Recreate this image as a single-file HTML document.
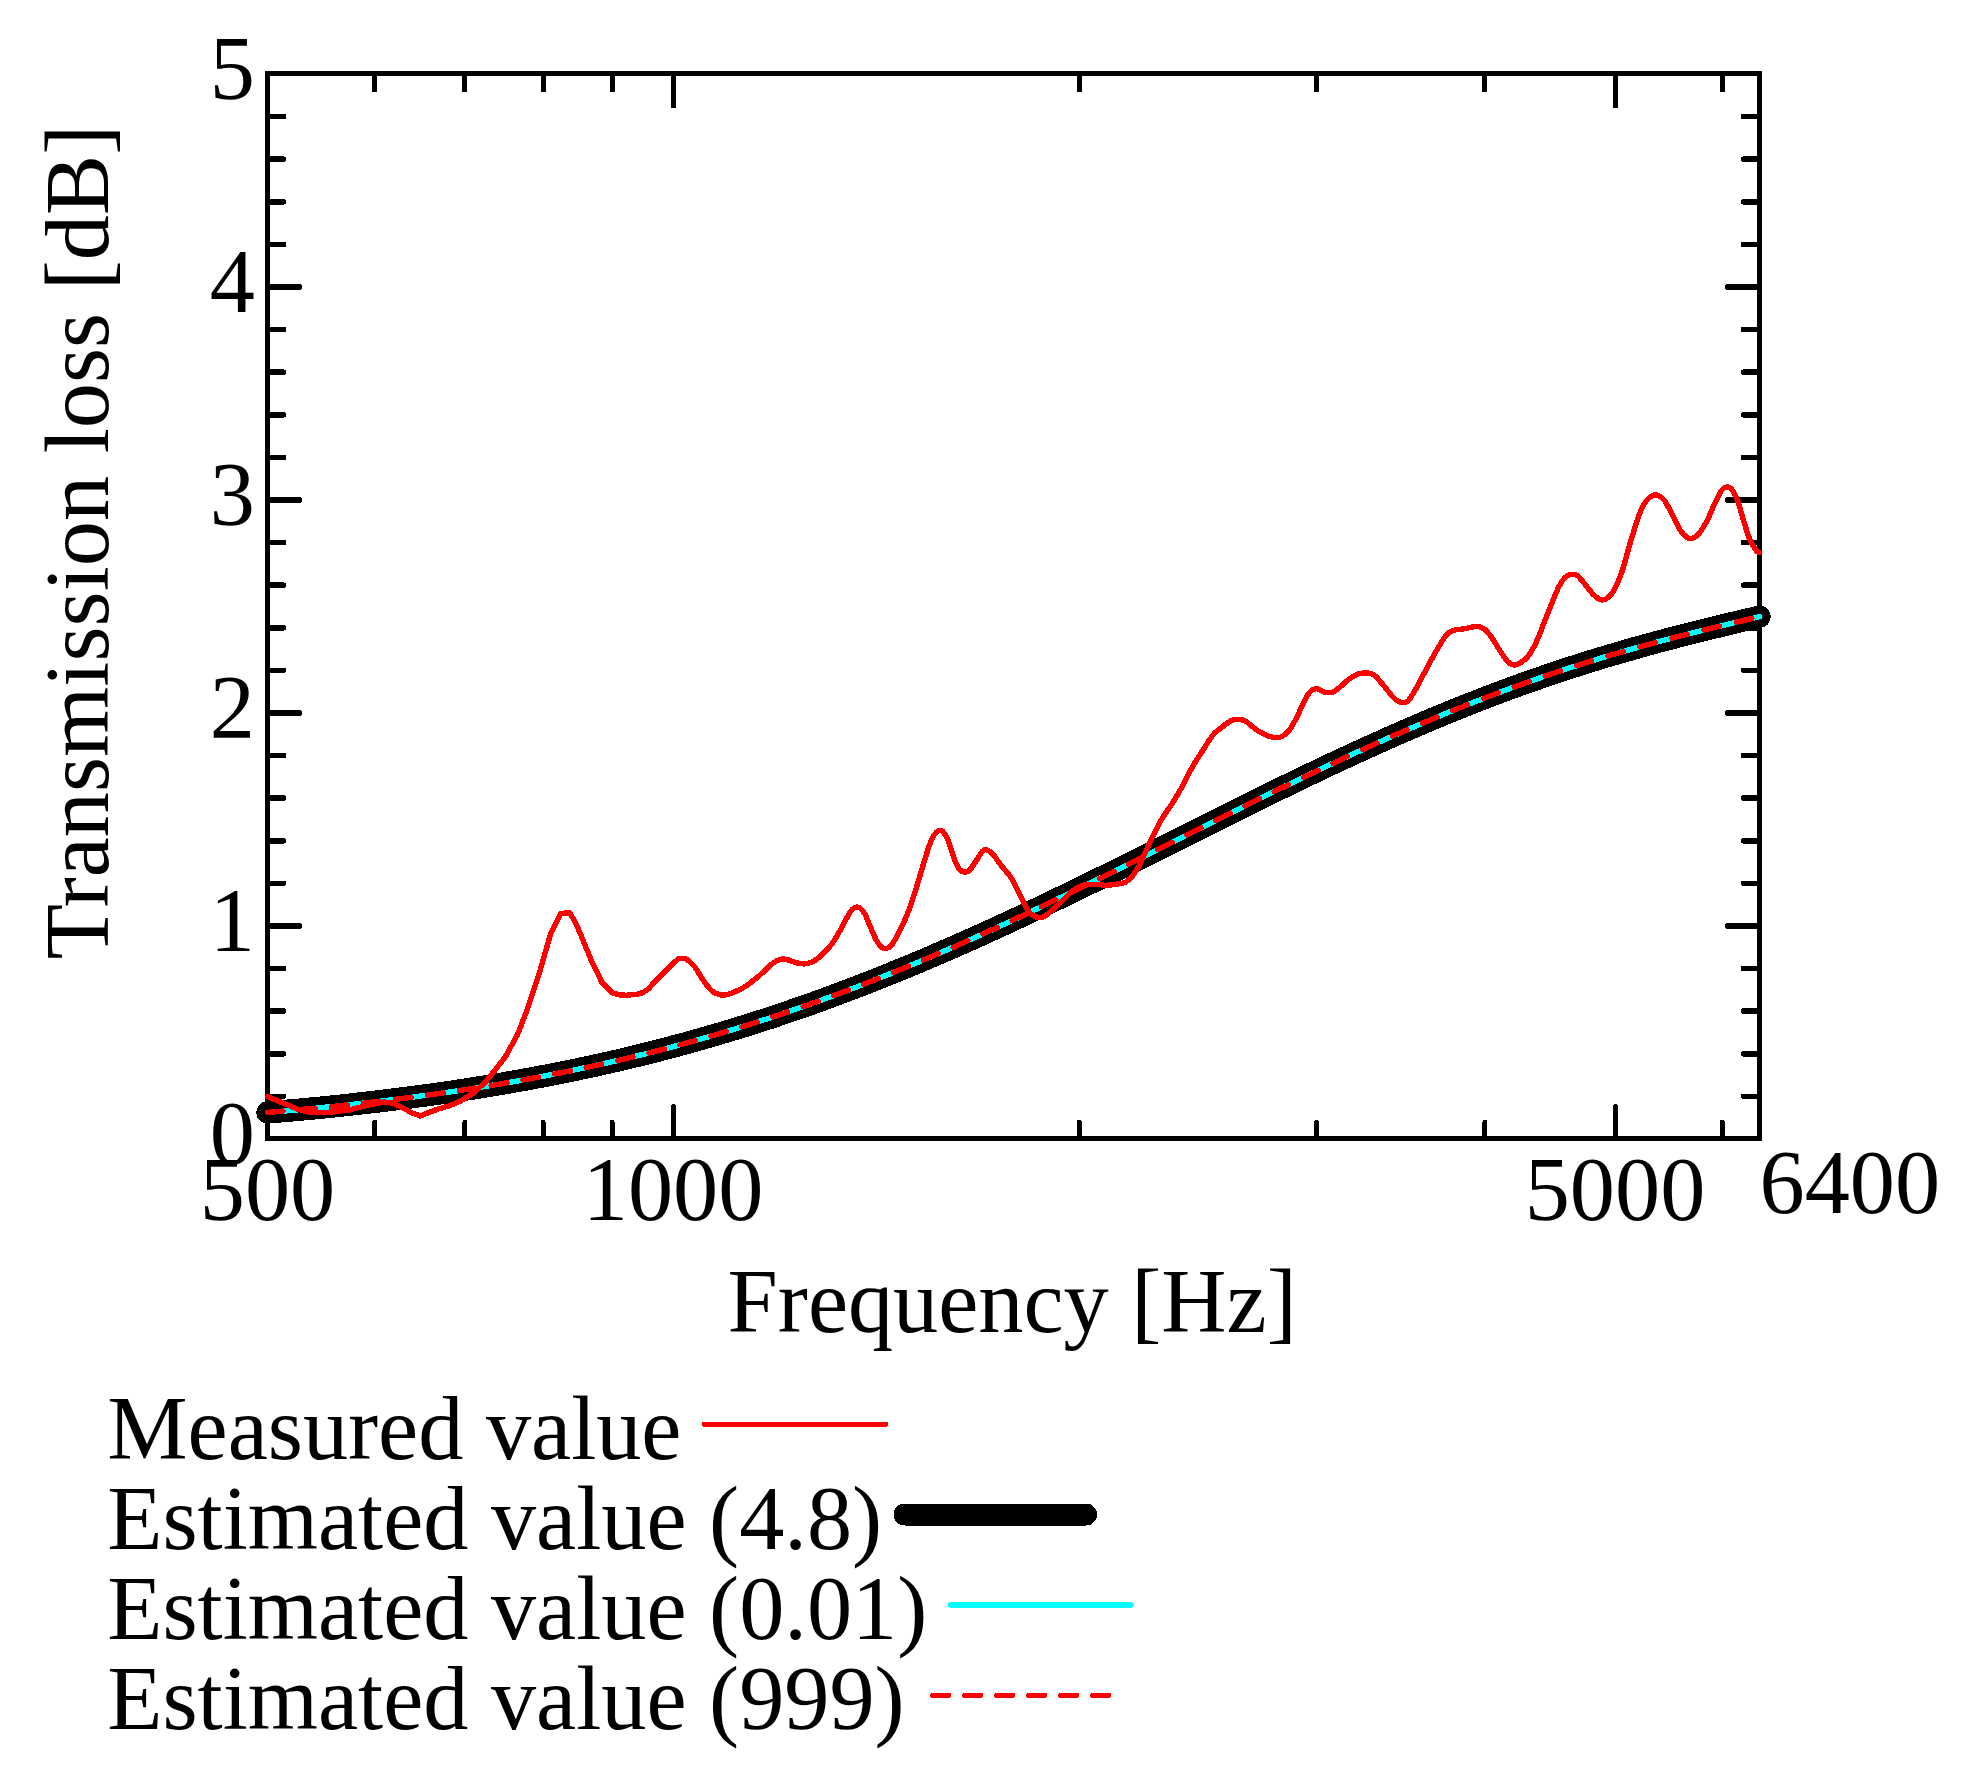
<!DOCTYPE html>
<html lang="en"><head><meta charset="utf-8"><title>Transmission loss</title>
<style>html,body{margin:0;padding:0;background:#fff}svg{display:block}text{font-family:"Liberation Serif",serif;font-size:90.3px;fill:#000}</style></head><body>
<svg width="1966" height="1772" viewBox="0 0 1966 1772" shape-rendering="crispEdges">
<rect width="1966" height="1772" fill="#fff"/>
<path d="M267.5 1096.3h16M1759.5 1096.3h-16M267.5 1053.7h16M1759.5 1053.7h-16M267.5 1011.1h16M1759.5 1011.1h-16M267.5 968.5h16M1759.5 968.5h-16M267.5 925.9h32M1759.5 925.9h-32M267.5 883.3h16M1759.5 883.3h-16M267.5 840.7h16M1759.5 840.7h-16M267.5 798.1h16M1759.5 798.1h-16M267.5 755.5h16M1759.5 755.5h-16M267.5 712.9h32M1759.5 712.9h-32M267.5 670.3h16M1759.5 670.3h-16M267.5 627.7h16M1759.5 627.7h-16M267.5 585.2h16M1759.5 585.2h-16M267.5 542.6h16M1759.5 542.6h-16M267.5 500.0h32M1759.5 500.0h-32M267.5 457.4h16M1759.5 457.4h-16M267.5 414.8h16M1759.5 414.8h-16M267.5 372.2h16M1759.5 372.2h-16M267.5 329.6h16M1759.5 329.6h-16M267.5 287.0h32M1759.5 287.0h-32M267.5 244.4h16M1759.5 244.4h-16M267.5 201.8h16M1759.5 201.8h-16M267.5 159.2h16M1759.5 159.2h-16M267.5 116.6h16M1759.5 116.6h-16" stroke="#000" stroke-width="5.6" stroke-linecap="round" fill="none"/>
<path d="M374.7 1138.4v-16M464.9 1138.4v-16M543.1 1138.4v-16M612.0 1138.4v-16M673.6 1138.4v-32M1079.3 1138.4v-16M1316.6 1138.4v-16M1484.9 1138.4v-16M1615.5 1138.4v-32M1722.2 1138.4v-16" stroke="#000" stroke-width="5" stroke-linecap="round" fill="none"/>
<path d="M374.7 73.5V92.0M464.9 73.5V92.0M543.1 73.5V92.0M612.0 73.5V92.0M673.6 73.5V108.0M1079.3 73.5V92.0M1316.6 73.5V92.0M1484.9 73.5V92.0M1615.5 73.5V108.0M1722.2 73.5V92.0" stroke="#000" stroke-width="5" fill="none"/>
<rect x="267.5" y="73.5" width="1492.0" height="1064.9" stroke="#000" stroke-width="5" fill="none"/>
<path d="M267.5 1112.4L275.5 1111.7L283.5 1111.1L291.5 1110.4L299.5 1109.7L307.5 1108.9L315.5 1108.2L323.5 1107.4L331.5 1106.6L339.5 1105.8L347.5 1104.9L355.5 1104.0L363.5 1103.1L371.5 1102.2L379.5 1101.3L387.5 1100.3L395.5 1099.3L403.5 1098.3L411.5 1097.3L419.5 1096.2L427.5 1095.1L435.5 1094.0L443.5 1092.9L451.5 1091.7L459.5 1090.5L467.5 1089.3L475.5 1088.0L483.5 1086.7L491.5 1085.4L499.5 1084.1L507.5 1082.7L515.5 1081.3L523.5 1079.9L531.5 1078.4L539.5 1076.9L547.5 1075.4L555.5 1073.8L563.5 1072.2L571.5 1070.6L579.5 1068.9L587.5 1067.2L595.5 1065.5L603.5 1063.7L611.5 1061.9L619.5 1060.1L627.5 1058.2L635.5 1056.2L643.5 1054.3L651.5 1052.3L659.5 1050.2L667.5 1048.1L675.5 1046.0L683.5 1043.9L691.5 1041.7L699.5 1039.4L707.5 1037.1L715.5 1034.8L723.5 1032.4L731.5 1030.0L739.5 1027.6L747.5 1025.1L755.5 1022.5L763.5 1020.0L771.5 1017.4L779.5 1014.7L787.5 1012.0L795.5 1009.3L803.5 1006.5L811.5 1003.7L819.5 1000.8L827.5 997.9L835.5 994.9L843.5 991.9L851.5 988.9L859.5 985.9L867.5 982.8L875.5 979.6L883.5 976.4L891.5 973.2L899.5 969.9L907.5 966.7L915.5 963.3L923.5 960.0L931.5 956.6L939.5 953.1L947.5 949.7L955.5 946.2L963.5 942.6L971.5 939.1L979.5 935.5L987.5 931.8L995.5 928.2L1003.5 924.5L1011.5 920.8L1019.5 917.1L1027.5 913.3L1035.5 909.5L1043.5 905.7L1051.5 901.9L1059.5 898.0L1067.5 894.2L1075.5 890.3L1083.5 886.4L1091.5 882.5L1099.5 878.5L1107.5 874.6L1115.5 870.6L1123.5 866.7L1131.5 862.7L1139.5 858.7L1147.5 854.7L1155.5 850.7L1163.5 846.7L1171.5 842.7L1179.5 838.7L1187.5 834.7L1195.5 830.7L1203.5 826.6L1211.5 822.6L1219.5 818.6L1227.5 814.7L1235.5 810.7L1243.5 806.7L1251.5 802.7L1259.5 798.8L1267.5 794.9L1275.5 790.9L1283.5 787.0L1291.5 783.1L1299.5 779.3L1307.5 775.4L1315.5 771.6L1323.5 767.8L1331.5 764.0L1339.5 760.3L1347.5 756.6L1355.5 752.9L1363.5 749.2L1371.5 745.6L1379.5 742.0L1387.5 738.4L1395.5 734.9L1403.5 731.4L1411.5 727.9L1419.5 724.5L1427.5 721.1L1435.5 717.7L1443.5 714.4L1451.5 711.1L1459.5 707.9L1467.5 704.7L1475.5 701.6L1483.5 698.5L1491.5 695.4L1499.5 692.4L1507.5 689.4L1515.5 686.5L1523.5 683.6L1531.5 680.8L1539.5 678.0L1547.5 675.3L1555.5 672.6L1563.5 669.9L1571.5 667.3L1579.5 664.8L1587.5 662.2L1595.5 659.8L1603.5 657.3L1611.5 654.9L1619.5 652.6L1627.5 650.3L1635.5 648.0L1643.5 645.8L1651.5 643.6L1659.5 641.4L1667.5 639.3L1675.5 637.2L1683.5 635.2L1691.5 633.1L1699.5 631.1L1707.5 629.2L1715.5 627.2L1723.5 625.3L1731.5 623.3L1739.5 621.4L1747.5 619.5L1755.5 617.6L1759.5 616.7" stroke="#000" stroke-width="22.4" fill="none" stroke-linecap="round" stroke-linejoin="round"/>
<path d="M267.5 1112.4L275.5 1111.7L283.5 1111.1L291.5 1110.4L299.5 1109.7L307.5 1108.9L315.5 1108.2L323.5 1107.4L331.5 1106.6L339.5 1105.8L347.5 1104.9L355.5 1104.0L363.5 1103.1L371.5 1102.2L379.5 1101.3L387.5 1100.3L395.5 1099.3L403.5 1098.3L411.5 1097.3L419.5 1096.2L427.5 1095.1L435.5 1094.0L443.5 1092.9L451.5 1091.7L459.5 1090.5L467.5 1089.3L475.5 1088.0L483.5 1086.7L491.5 1085.4L499.5 1084.1L507.5 1082.7L515.5 1081.3L523.5 1079.9L531.5 1078.4L539.5 1076.9L547.5 1075.4L555.5 1073.8L563.5 1072.2L571.5 1070.6L579.5 1068.9L587.5 1067.2L595.5 1065.5L603.5 1063.7L611.5 1061.9L619.5 1060.1L627.5 1058.2L635.5 1056.2L643.5 1054.3L651.5 1052.3L659.5 1050.2L667.5 1048.1L675.5 1046.0L683.5 1043.9L691.5 1041.7L699.5 1039.4L707.5 1037.1L715.5 1034.8L723.5 1032.4L731.5 1030.0L739.5 1027.6L747.5 1025.1L755.5 1022.5L763.5 1020.0L771.5 1017.4L779.5 1014.7L787.5 1012.0L795.5 1009.3L803.5 1006.5L811.5 1003.7L819.5 1000.8L827.5 997.9L835.5 994.9L843.5 991.9L851.5 988.9L859.5 985.9L867.5 982.8L875.5 979.6L883.5 976.4L891.5 973.2L899.5 969.9L907.5 966.7L915.5 963.3L923.5 960.0L931.5 956.6L939.5 953.1L947.5 949.7L955.5 946.2L963.5 942.6L971.5 939.1L979.5 935.5L987.5 931.8L995.5 928.2L1003.5 924.5L1011.5 920.8L1019.5 917.1L1027.5 913.3L1035.5 909.5L1043.5 905.7L1051.5 901.9L1059.5 898.0L1067.5 894.2L1075.5 890.3L1083.5 886.4L1091.5 882.5L1099.5 878.5L1107.5 874.6L1115.5 870.6L1123.5 866.7L1131.5 862.7L1139.5 858.7L1147.5 854.7L1155.5 850.7L1163.5 846.7L1171.5 842.7L1179.5 838.7L1187.5 834.7L1195.5 830.7L1203.5 826.6L1211.5 822.6L1219.5 818.6L1227.5 814.7L1235.5 810.7L1243.5 806.7L1251.5 802.7L1259.5 798.8L1267.5 794.9L1275.5 790.9L1283.5 787.0L1291.5 783.1L1299.5 779.3L1307.5 775.4L1315.5 771.6L1323.5 767.8L1331.5 764.0L1339.5 760.3L1347.5 756.6L1355.5 752.9L1363.5 749.2L1371.5 745.6L1379.5 742.0L1387.5 738.4L1395.5 734.9L1403.5 731.4L1411.5 727.9L1419.5 724.5L1427.5 721.1L1435.5 717.7L1443.5 714.4L1451.5 711.1L1459.5 707.9L1467.5 704.7L1475.5 701.6L1483.5 698.5L1491.5 695.4L1499.5 692.4L1507.5 689.4L1515.5 686.5L1523.5 683.6L1531.5 680.8L1539.5 678.0L1547.5 675.3L1555.5 672.6L1563.5 669.9L1571.5 667.3L1579.5 664.8L1587.5 662.2L1595.5 659.8L1603.5 657.3L1611.5 654.9L1619.5 652.6L1627.5 650.3L1635.5 648.0L1643.5 645.8L1651.5 643.6L1659.5 641.4L1667.5 639.3L1675.5 637.2L1683.5 635.2L1691.5 633.1L1699.5 631.1L1707.5 629.2L1715.5 627.2L1723.5 625.3L1731.5 623.3L1739.5 621.4L1747.5 619.5L1755.5 617.6L1759.5 616.7" stroke="#00ffff" stroke-width="5.4" fill="none" stroke-linecap="round"/>
<path d="M267.5 1112.4L271.4 1112.1L275.4 1111.8L279.3 1111.4L283.2 1111.1M299.4 1109.7L303.4 1109.3L307.4 1108.9L311.4 1108.6L315.3 1108.2M331.5 1106.6L335.5 1106.2L339.5 1105.8L343.4 1105.3L347.4 1104.9M363.6 1103.1L367.5 1102.7L371.5 1102.2L375.5 1101.8L379.5 1101.3M395.6 1099.3L399.5 1098.8L403.5 1098.3L407.5 1097.8L411.4 1097.3M427.5 1095.1L431.5 1094.6L435.5 1094.0L439.4 1093.4L443.4 1092.9M459.4 1090.5L463.4 1089.9L467.3 1089.3L471.3 1088.7L475.2 1088.1M491.2 1085.5L495.2 1084.8L499.1 1084.2L503.1 1083.5L507.0 1082.8M523.0 1080.0L526.9 1079.3L530.8 1078.5L534.8 1077.8L538.7 1077.1M554.6 1074.0L558.5 1073.2L562.5 1072.4L566.4 1071.6L570.3 1070.8M586.2 1067.5L590.1 1066.7L594.0 1065.8L597.9 1065.0L601.8 1064.1M617.6 1060.5L621.5 1059.6L625.4 1058.7L629.3 1057.7L633.2 1056.8M648.9 1052.9L652.8 1051.9L656.7 1051.0L660.5 1050.0L664.4 1049.0M680.1 1044.8L683.9 1043.7L687.8 1042.7L691.6 1041.6L695.5 1040.5M711.1 1036.1L714.9 1035.0L718.8 1033.8L722.6 1032.7L726.4 1031.6M742.0 1026.8L745.8 1025.6L749.6 1024.4L753.4 1023.2L757.2 1022.0M772.7 1017.0L776.4 1015.7L780.2 1014.5L784.0 1013.2L787.8 1011.9M803.2 1006.6L806.9 1005.3L810.7 1003.9L814.5 1002.6L818.2 1001.2M833.5 995.7L837.3 994.3L841.0 992.9L844.8 991.5L848.5 990.1M863.7 984.2L867.4 982.8L871.1 981.3L874.9 979.9L878.6 978.4M893.7 972.3L897.4 970.8L901.1 969.3L904.8 967.8L908.5 966.2M923.5 960.0L927.2 958.4L930.9 956.8L934.5 955.3L938.2 953.7M953.2 947.2L956.8 945.6L960.5 943.9L964.2 942.3L967.8 940.7M982.7 934.0L986.3 932.4L990.0 930.7L993.6 929.0L997.3 927.4M1012.1 920.5L1015.7 918.8L1019.3 917.1L1023.0 915.4L1026.6 913.7M1041.4 906.7L1045.0 905.0L1048.6 903.3L1052.2 901.6L1055.8 899.8M1070.5 892.7L1074.1 890.9L1077.7 889.2L1081.3 887.4L1084.9 885.7M1099.7 878.5L1103.2 876.7L1106.8 874.9L1110.4 873.1L1114.0 871.4M1128.7 864.1L1132.3 862.3L1135.9 860.5L1139.5 858.7L1143.0 856.9M1157.8 849.6L1161.3 847.8L1164.9 846.0L1168.5 844.2L1172.1 842.4M1186.8 835.0L1190.4 833.2L1194.0 831.4L1197.5 829.6L1201.1 827.8M1215.9 820.5L1219.4 818.7L1223.0 816.9L1226.6 815.1L1230.2 813.3M1245.0 806.0L1248.6 804.2L1252.2 802.4L1255.8 800.6L1259.3 798.9M1274.2 791.6L1277.8 789.8L1281.4 788.0L1285.0 786.3L1288.6 784.5M1303.6 777.3L1307.2 775.6L1310.8 773.9L1314.4 772.1L1318.0 770.4M1333.0 763.3L1336.7 761.6L1340.3 759.9L1343.9 758.2L1347.5 756.5M1362.7 749.6L1366.3 747.9L1370.0 746.3L1373.6 744.6L1377.2 743.0M1392.5 736.2L1396.2 734.6L1399.8 732.9L1403.5 731.3L1407.2 729.8M1422.6 723.2L1426.3 721.6L1429.9 720.0L1433.6 718.5L1437.3 717.0M1452.9 710.6L1456.6 709.1L1460.3 707.6L1464.0 706.1L1467.7 704.6M1483.4 698.5L1487.1 697.1L1490.9 695.7L1494.6 694.3L1498.3 692.8M1514.2 687.0L1517.9 685.6L1521.7 684.3L1525.5 682.9L1529.2 681.6M1545.2 676.1L1549.0 674.8L1552.8 673.5L1556.6 672.2L1560.4 671.0M1576.5 665.7L1580.3 664.5L1584.1 663.3L1588.0 662.1L1591.8 660.9M1608.0 656.0L1611.9 654.8L1615.7 653.7L1619.6 652.6L1623.4 651.5M1639.8 646.8L1643.7 645.7L1647.5 644.7L1651.4 643.6L1655.2 642.6M1671.8 638.2L1675.6 637.2L1679.5 636.2L1683.4 635.2L1687.3 634.2M1703.9 630.0L1707.8 629.1L1711.7 628.1L1715.6 627.2L1719.5 626.2M1736.2 622.2L1740.1 621.3L1744.0 620.4L1747.9 619.4L1751.8 618.5" stroke="#ff0000" stroke-width="5.4" fill="none" stroke-linecap="round" stroke-linejoin="round"/>
<path d="M267.5 1096.5L297.0 1109.0L311.0 1112.8L326.3 1112.6L350.5 1109.7L370.8 1104.6L384.8 1102.0L393.7 1103.3L402.6 1107.7L411.5 1112.8L420.4 1116.0L428.0 1112.8L438.2 1109.0L449.6 1105.8L459.8 1101.4L472.5 1093.8L485.3 1082.3L495.4 1069.6L505.2 1057.0L517.5 1034.6L527.1 1010.0L539.8 971.4L551.0 932.7L560.7 913.4L569.9 912.9L576.5 924.6L591.7 961.2L598.9 975.5L601.9 982.6L612.1 992.7L619.2 994.8L626.3 995.3L636.5 994.3L642.6 992.7L648.7 988.7L655.8 980.5L673.1 963.2L679.2 958.2L685.3 958.2L685.3 958.2C686.7 959.5 690.9 962.1 693.9 965.8C696.9 969.4 700.2 976.0 703.1 980.1C706.0 984.2 708.7 987.8 711.2 990.2C713.7 992.6 715.9 993.5 718.3 994.3C720.7 995.1 723.0 995.2 725.5 994.9C728.0 994.6 730.2 993.8 733.6 992.3C737.0 990.8 741.4 989.1 745.8 986.2C750.2 983.3 755.6 978.7 760.0 975.0C764.4 971.3 768.8 966.4 772.2 963.8C775.6 961.2 777.9 960.0 780.4 959.3C782.9 958.6 784.8 959.1 787.5 959.7C790.2 960.3 793.8 962.1 796.7 962.8C799.6 963.5 802.1 964.0 804.8 963.8C807.5 963.6 809.8 963.4 812.9 961.7C816.0 960.0 819.9 956.7 823.1 953.6C826.3 950.5 829.2 947.6 832.3 943.4C835.3 939.2 838.5 933.3 841.4 928.2C844.3 923.1 847.4 916.3 849.6 912.9C851.8 909.5 852.9 908.6 854.6 907.8C856.3 906.9 858.0 906.8 859.7 907.8C861.4 908.8 862.9 910.5 864.8 913.9C866.7 917.3 868.9 923.6 870.9 928.2C872.9 932.8 875.1 938.2 877.0 941.4C878.9 944.6 880.6 946.3 882.1 947.5C883.6 948.7 884.7 948.8 886.2 948.5C887.7 948.2 889.3 948.0 891.3 945.5C893.3 943.0 895.7 938.6 898.4 933.3C901.1 928.0 904.7 920.7 907.4 913.9C910.1 907.1 912.4 900.0 914.8 892.6C917.2 885.2 919.5 877.0 921.9 869.2C924.3 861.4 927.2 851.5 929.2 845.8C931.2 840.1 932.6 837.5 934.2 835.0C935.8 832.5 937.2 831.4 938.6 830.8C940.0 830.2 941.0 829.6 942.6 831.3C944.2 832.9 946.2 836.1 948.2 840.7C950.2 845.3 952.4 854.2 954.3 859.0C956.2 863.8 957.7 867.0 959.4 869.2C961.1 871.4 962.8 872.0 964.5 872.2C966.2 872.4 967.6 872.2 969.6 870.2C971.6 868.2 974.5 863.2 976.7 860.0C978.9 856.8 981.0 852.6 982.8 850.9C984.6 849.2 985.6 849.4 987.3 850.0C989.0 850.6 990.8 852.0 993.0 854.4C995.2 856.8 997.4 860.5 1000.3 864.2C1003.1 867.9 1007.4 872.5 1010.1 876.4C1012.8 880.3 1014.6 883.9 1016.6 887.8C1018.6 891.7 1020.4 896.2 1022.3 900.0C1024.2 903.8 1026.2 908.0 1028.0 910.6C1029.8 913.2 1031.1 914.2 1032.9 915.4C1034.7 916.5 1036.7 917.3 1038.6 917.5C1040.5 917.7 1042.3 917.7 1044.3 916.7C1046.3 915.7 1048.5 913.4 1050.8 911.4C1053.1 909.4 1055.5 907.3 1058.1 904.9C1060.7 902.5 1063.7 899.2 1066.3 896.7C1068.9 894.2 1071.0 892.0 1073.6 890.2C1076.2 888.4 1079.0 886.7 1081.7 885.7C1084.4 884.7 1087.2 884.6 1089.9 884.4C1092.6 884.2 1095.3 884.4 1098.0 884.5C1100.7 884.6 1103.0 885.4 1106.1 885.3C1109.2 885.2 1113.4 884.6 1116.7 884.1C1120.0 883.6 1123.1 883.4 1125.7 882.1C1128.3 880.8 1130.3 878.6 1132.2 876.4C1134.1 874.2 1135.8 871.2 1137.1 869.1C1138.4 867.0 1138.5 866.9 1140.0 863.8C1141.5 860.7 1143.7 855.7 1146.1 850.6C1148.5 845.5 1151.6 838.7 1154.3 833.3C1157.0 827.9 1159.4 823.1 1162.4 818.0C1165.5 812.9 1169.2 808.2 1172.6 802.8C1176.0 797.4 1179.4 791.6 1182.8 785.5C1186.2 779.4 1189.5 772.0 1192.9 766.1C1196.3 760.2 1199.7 755.1 1203.1 749.9C1206.5 744.6 1210.2 738.3 1213.3 734.6C1216.3 730.9 1218.4 729.9 1221.4 727.5C1224.5 725.1 1228.7 721.8 1231.6 720.4C1234.5 719.0 1236.3 719.1 1238.7 719.3C1241.1 719.5 1242.9 719.7 1245.8 721.4C1248.7 723.1 1252.6 727.2 1256.0 729.5C1259.4 731.8 1262.8 733.8 1266.2 735.2C1269.6 736.6 1273.5 737.6 1276.4 737.7C1279.3 737.8 1281.1 737.1 1283.5 735.6C1285.9 734.1 1288.1 732.2 1290.6 728.5C1293.1 724.8 1296.3 718.0 1298.7 713.2C1301.1 708.5 1302.8 703.7 1304.8 700.0C1306.8 696.3 1308.9 692.8 1310.9 690.9C1312.9 689.0 1314.6 688.5 1317.0 688.8C1319.4 689.1 1322.5 692.0 1325.2 692.5C1327.9 693.0 1330.6 693.0 1333.3 691.9C1336.0 690.8 1338.8 688.0 1341.5 685.8C1344.2 683.6 1346.9 680.6 1349.6 678.7C1352.3 676.8 1355.0 675.2 1357.7 674.2C1360.4 673.2 1363.2 672.9 1365.9 673.0C1368.6 673.1 1371.3 673.2 1374.0 675.0C1376.7 676.8 1379.5 680.6 1382.2 683.7C1384.9 686.9 1388.0 691.2 1390.3 693.9C1392.6 696.6 1394.1 698.6 1396.1 700.1C1398.1 701.6 1400.2 702.5 1402.2 702.6C1404.2 702.7 1406.3 702.5 1408.3 700.6C1410.3 698.7 1412.0 695.5 1414.4 691.4C1416.8 687.3 1419.9 681.3 1422.6 676.2C1425.3 671.1 1428.0 665.8 1430.7 660.9C1433.4 656.0 1436.2 650.9 1438.8 646.7C1441.3 642.5 1443.6 638.2 1446.0 635.5C1448.4 632.8 1450.2 631.5 1453.1 630.4C1456.0 629.3 1460.2 629.5 1463.2 629.0C1466.2 628.5 1469.0 627.8 1471.4 627.3C1473.8 626.8 1475.3 625.9 1477.5 626.3C1479.7 626.6 1482.2 627.5 1484.6 629.4C1487.0 631.3 1489.2 634.0 1491.7 637.5C1494.2 641.0 1497.2 646.6 1499.9 650.7C1502.6 654.8 1505.6 659.5 1508.0 661.9C1510.4 664.3 1512.1 664.8 1514.1 665.0C1516.1 665.2 1517.8 664.4 1520.2 662.9C1522.6 661.4 1525.7 659.3 1528.4 655.8C1531.1 652.2 1533.8 647.4 1536.5 641.6C1539.2 635.8 1541.9 628.0 1544.6 621.2C1547.3 614.4 1550.4 606.7 1552.8 600.9C1555.2 595.1 1556.9 590.5 1558.9 586.6C1560.9 582.7 1563.0 579.5 1565.0 577.5C1567.0 575.5 1569.1 574.7 1571.1 574.4C1573.1 574.1 1574.8 573.8 1577.2 575.5C1579.6 577.2 1582.6 581.4 1585.3 584.6C1588.0 587.8 1590.8 592.2 1593.5 594.8C1596.2 597.3 1599.2 599.4 1601.6 599.9C1604.0 600.4 1605.7 599.3 1607.7 597.8C1609.7 596.3 1611.4 595.0 1613.8 590.7C1616.2 586.4 1619.5 578.6 1621.9 571.9C1624.3 565.2 1626.0 557.5 1628.0 550.5C1630.0 543.5 1632.0 536.6 1634.1 530.2C1636.1 523.8 1638.2 516.8 1640.3 511.9C1642.3 507.0 1644.4 503.4 1646.4 500.7C1648.4 498.0 1650.5 496.5 1652.5 495.6C1654.5 494.8 1656.6 494.8 1658.6 495.6C1660.6 496.5 1662.3 497.3 1664.7 500.7C1667.1 504.1 1670.1 510.8 1672.8 515.9C1675.5 521.0 1678.5 527.6 1680.9 531.2C1683.3 534.8 1685.1 536.1 1687.0 537.3C1688.9 538.5 1690.0 539.0 1692.1 538.3C1694.1 537.6 1696.8 536.2 1699.3 533.2C1701.8 530.2 1704.7 525.2 1707.4 520.0C1710.1 514.8 1713.1 506.6 1715.5 501.7C1717.9 496.8 1719.7 492.9 1721.6 490.5C1723.5 488.1 1725.0 487.2 1726.7 487.0C1728.4 486.8 1729.9 487.1 1731.8 489.5C1733.7 491.9 1735.9 496.3 1737.9 501.7C1739.9 507.1 1742.0 515.6 1744.0 522.0C1746.0 528.4 1748.1 535.5 1750.1 540.3C1752.1 545.0 1754.6 548.5 1756.2 550.5C1757.8 552.5 1759.0 552.2 1759.5 552.6" stroke="#ff0000" stroke-width="5.4" fill="none" stroke-linejoin="round" stroke-linecap="round"/>
<text x="255" y="1163.9" text-anchor="end">0</text>
<text x="255" y="950.9" text-anchor="end">1</text>
<text x="255" y="737.9" text-anchor="end">2</text>
<text x="255" y="525.0" text-anchor="end">3</text>
<text x="255" y="312.0" text-anchor="end">4</text>
<text x="255" y="99.0" text-anchor="end">5</text>
<text x="267.5" y="1219.7" text-anchor="middle">500</text>
<text x="673.1" y="1219.7" text-anchor="middle">1000</text>
<text x="1615.0" y="1219.7" text-anchor="middle">5000</text>
<text x="1759.5" y="1213.2">6400</text>
<text x="727.6" y="1331.6">Frequency [Hz]</text>
<text transform="translate(108.2 542) rotate(-90)" text-anchor="middle">Transmission loss [dB]</text>
<text x="107.3" y="1459">Measured value</text>
<text x="107.3" y="1548.5">Estimated value (4.8)</text>
<text x="107.3" y="1638.6">Estimated value (0.01)</text>
<text x="107.3" y="1728.7">Estimated value (999)</text>
<path d="M704.5 1424.2H885.5" stroke="#ff0000" stroke-width="5.4" stroke-linecap="round" fill="none"/>
<path d="M904.6 1514.5H1086" stroke="#000" stroke-width="22" stroke-linecap="round" fill="none"/>
<path d="M950.6 1604.9H1131" stroke="#00ffff" stroke-width="5.4" stroke-linecap="round" fill="none"/>
<path d="M932.8 1695.2H1113.8" stroke="#ff0000" stroke-width="5.4" stroke-dasharray="16 16" stroke-linecap="round" fill="none"/>
</svg></body></html>
